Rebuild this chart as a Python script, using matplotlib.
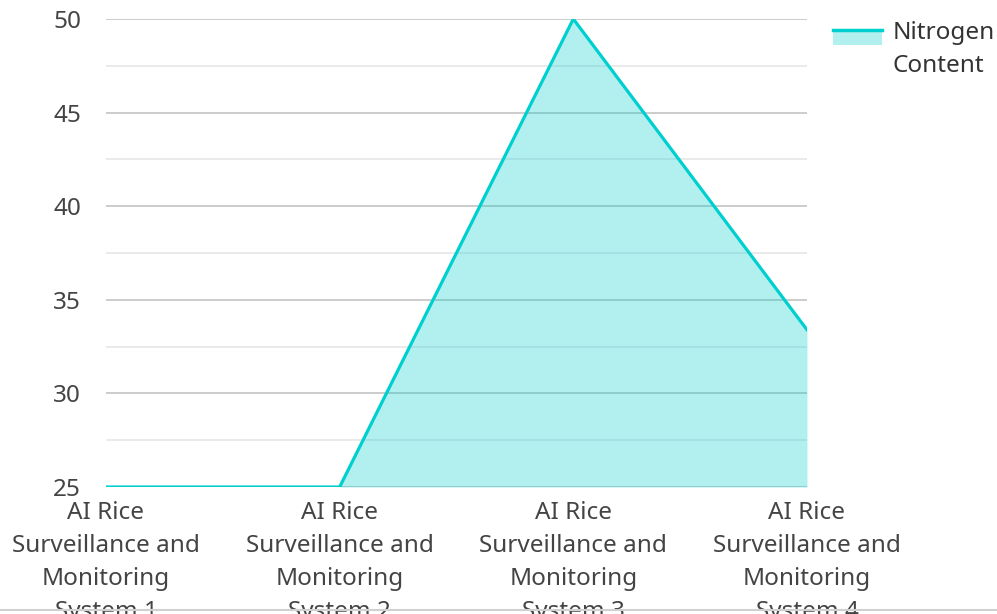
import numpy as np
import matplotlib
matplotlib.use("Agg")
import matplotlib.pyplot as plt
from matplotlib.lines import Line2D
from matplotlib.patches import Rectangle
from matplotlib.legend_handler import HandlerBase
from matplotlib.ticker import MultipleLocator

# nitrogen content per surveillance system
systems = ["AI Rice\nSurveillance and\nMonitoring\nSystem 1",
           "AI Rice\nSurveillance and\nMonitoring\nSystem 2",
           "AI Rice\nSurveillance and\nMonitoring\nSystem 3",
           "AI Rice\nSurveillance and\nMonitoring\nSystem 4"]
nitrogen = [25, 25, 50, 33.4]
series_name = "Nitrogen\nContent"

line_col = "#00cfd0"
fill_col = "#00cfd0"
fs = 17.5

plt.rcParams['font.family'] = ['Noto Sans', 'DejaVu Sans']


class AreaHandler(HandlerBase):
    # filled box with the series line along its top edge,
    # lifted so it sits beside the first text line
    def create_artists(self, legend, orig, xd, yd, w, h, fontsize, trans):
        y0 = yd + 10
        box = Rectangle((xd, y0), w, h, facecolor=fill_col, alpha=0.3,
                        edgecolor="none", transform=trans)
        top = Line2D([xd, xd + w], [y0 + h, y0 + h], color=line_col,
                     lw=2.5, transform=trans)
        return [box, top]


fig = plt.figure(figsize=(9.97, 6.14), dpi=100)
ax = fig.add_axes([0.1063, 0.2068, 0.7031, 0.7623])

x = np.arange(len(systems))
ax.fill_between(x, nitrogen, 25, color=fill_col, alpha=0.3, lw=0, zorder=3)
ln, = ax.plot(x, nitrogen, color=line_col, lw=2.3, zorder=4,
              solid_joinstyle="miter")

ax.set_xlim(0, len(systems) - 1)
ax.set_ylim(25, 50)
ax.yaxis.set_major_locator(MultipleLocator(5))
ax.yaxis.set_minor_locator(MultipleLocator(2.5))
ax.grid(which="major", axis="y", color="#c8c8c8", lw=1.3, zorder=1)
ax.grid(which="minor", axis="y", color="#e8e8e8", lw=1.3, zorder=1)
ax.set_axisbelow(True)
for s in ax.spines.values():
    s.set_visible(False)

ax.set_xticks(x)
ax.set_xticklabels(systems, linespacing=1.5)
ax.tick_params(axis="both", which="both", length=0, labelsize=fs,
               labelcolor="#444444")
ax.tick_params(axis="y", pad=18)
ax.tick_params(axis="x", pad=10)

leg = fig.legend([ln], [series_name], handler_map={ln: AreaHandler()},
                 loc="upper left", bbox_to_anchor=(0.8355, 0.966),
                 frameon=False, fontsize=fs, handlelength=2.0,
                 handleheight=0.6, handletextpad=0.45, labelspacing=0.2,
                 borderaxespad=0, borderpad=0)
for t in leg.get_texts():
    t.set_color("#333333")
    t.set_linespacing(1.5)

# thin frame line along the bottom edge
fig.add_artist(Line2D([0, 1], [0.007, 0.007], color="#d0d0d0", lw=1.5,
                      transform=fig.transFigure))

fig.savefig("out.png", dpi=100)
